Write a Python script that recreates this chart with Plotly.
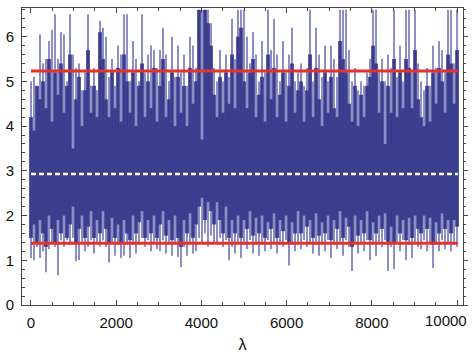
import plotly.graph_objects as go

# Per-column extremes (light trace = full swing, dark = dense core)
spike_hi = [
    5.0, 5.1, 4.6, 6.05, 5.4, 5.5, 5.9, 6.15, 6.5, 5.5,
    6.1, 6.05, 5.0, 6.5, 5.6, 5.3, 5.4, 4.8, 5.2, 6.5,
    4.9, 5.3, 4.8, 6.35, 6.2, 6.0, 5.1, 5.5, 4.9, 5.8,
    5.6, 6.5, 6.5, 5.0, 5.9, 5.5, 5.0, 6.5, 5.2, 5.6,
    5.8, 5.7, 5.3, 5.7, 6.2, 5.6, 5.0, 6.0, 5.1, 5.8,
    5.2, 5.6, 4.9, 6.0, 5.8, 5.3, 6.6, 6.6, 6.6, 6.6,
    6.3, 5.3, 5.0, 5.7, 5.0, 5.6, 5.1, 6.4, 5.5, 6.6,
    6.6, 6.6, 6.0, 5.4, 6.1, 5.6, 5.0, 5.9, 5.2, 6.6,
    5.7, 6.4, 5.6, 5.0, 5.9, 5.2, 5.6, 6.2, 5.0, 5.2,
    5.4, 4.9, 5.3, 6.6, 5.0, 6.2, 5.6, 5.1, 5.8, 5.0,
    5.8, 5.5, 5.1, 6.6, 6.6, 6.6, 5.7, 5.0, 5.3, 4.8,
    5.0, 4.9, 5.2, 5.5, 6.6, 6.6, 5.2, 5.5, 5.0, 5.6,
    5.3, 6.6, 5.1, 5.8, 5.0, 6.6, 6.6, 5.2, 6.6, 5.4,
    5.0, 4.8, 5.3, 4.9, 5.8, 5.3, 5.9, 5.7, 5.2, 6.6,
    6.6, 5.4, 6.6,
]
spike_lo = [
    1.05, 1.0, 1.3, 1.05, 1.2, 0.73, 1.25, 1.4, 1.3, 0.66,
    1.45, 1.3, 1.45, 1.35, 1.5, 0.98, 1.0, 1.4, 1.2, 1.3,
    1.45, 1.15, 1.35, 1.3, 1.45, 1.3, 0.95, 1.4, 1.1, 1.35,
    1.05, 1.1, 1.4, 1.05, 1.35, 1.15, 1.35, 1.5, 1.3, 1.45,
    1.2, 1.4, 1.25, 1.2, 1.45, 1.15, 1.35, 1.1, 1.4, 1.07,
    0.85, 1.3, 1.1, 1.4, 1.15, 1.2, 1.5, 1.4, 1.6, 1.3,
    1.55, 1.4, 1.35, 1.5, 1.3, 1.45, 1.0, 1.3, 1.15, 1.4,
    1.05, 1.35, 1.25, 1.45, 1.15, 1.4, 1.1, 1.35, 1.2, 1.45,
    1.25, 1.4, 1.15, 1.35, 1.3, 1.45, 0.88, 1.35, 1.2, 1.4,
    1.25, 1.45, 1.3, 1.4, 1.15, 1.35, 1.1, 1.4, 1.2, 1.45,
    1.05, 1.35, 1.25, 1.4, 1.1, 1.45, 1.3, 0.76, 1.4, 1.15,
    1.35, 1.2, 1.45, 1.0, 1.35, 1.1, 1.4, 1.3, 1.45, 0.76,
    1.3, 0.8, 1.4, 1.2, 1.45, 1.0, 1.35, 1.05, 1.4, 1.3,
    1.25, 1.45, 1.2, 1.4, 0.83, 1.35, 1.2, 1.45, 1.25, 1.4,
    1.2, 1.35, 1.3,
]
core_hi = [
    4.2, 3.9, 4.9, 4.6, 5.0, 4.4, 5.5, 4.1, 5.2, 4.7,
    5.4, 4.3, 4.9, 5.6, 3.5, 4.6, 5.1, 4.0, 4.8, 5.7,
    4.3, 4.9, 4.2, 6.1, 5.5, 4.6, 4.2, 5.2, 4.4, 5.3,
    4.1, 5.6, 5.0, 4.3, 5.2, 4.0, 4.9, 5.4, 4.2, 5.0,
    4.4, 5.3, 4.1, 4.9, 5.5, 4.2, 4.6, 5.2, 4.0, 5.1,
    4.3, 4.9, 4.0, 5.3, 4.5, 5.0, 6.6, 3.7, 6.6, 6.3,
    5.8, 4.7, 4.2, 5.1, 4.3, 5.2, 4.5, 5.6, 4.4, 6.0,
    6.2, 5.0, 4.4, 5.2, 5.5, 4.2, 4.7, 5.1, 4.1, 5.6,
    4.6, 5.3, 4.2, 4.7, 5.2, 4.1, 4.9, 5.4, 4.3, 4.8,
    5.0, 4.1, 4.8, 5.6, 4.2, 5.3, 4.6, 4.0, 5.2, 4.3,
    5.1, 4.4, 4.2, 5.9, 5.5, 5.2, 4.5, 4.1, 4.9, 4.0,
    4.7, 4.2, 4.9, 5.1, 5.8, 5.4, 4.3, 5.0, 3.6, 4.9,
    4.3, 5.5, 4.2, 5.2, 4.4, 5.5, 5.3, 4.4, 5.7, 4.6,
    4.2, 4.0, 4.9, 4.1, 5.2, 4.5, 5.3, 5.0, 4.3, 5.6,
    5.4, 4.5, 5.7,
]
core_lo = [
    1.5, 1.8, 1.4, 1.9, 1.6, 1.3, 2.0, 1.7, 1.4, 1.9,
    1.6, 2.0, 1.5, 1.8, 2.2, 1.4, 1.7, 2.0, 1.5, 1.75,
    2.1, 1.5, 1.9, 1.6, 2.1, 1.7, 1.4, 1.95, 1.5, 1.8,
    1.4, 1.9, 1.6, 1.45, 2.0, 1.6, 1.85, 2.1, 1.5, 1.9,
    1.6, 2.0, 1.5, 1.8, 2.1, 1.55, 1.9, 1.45, 2.0, 1.5,
    1.3, 1.9, 1.6, 2.05, 1.5, 1.8, 2.2, 2.4, 1.9, 2.3,
    2.1, 1.8, 2.3, 1.9, 1.6, 2.2, 1.5, 1.9, 1.6, 2.0,
    1.5, 1.9, 1.7, 2.1, 1.55, 1.95, 1.6, 2.0, 1.5, 1.85,
    1.7, 2.05, 1.5, 1.9, 1.65, 2.0, 1.4, 1.85, 1.6, 2.1,
    1.6, 2.0, 1.75, 1.9, 1.5, 2.05, 1.55, 1.85, 1.6, 2.0,
    1.45, 1.9, 1.7, 2.1, 1.5, 1.95, 1.75, 1.3, 2.0, 1.55,
    1.9, 1.6, 2.1, 1.45, 1.85, 1.6, 2.0, 1.7, 2.05, 1.35,
    1.75, 1.4, 2.0, 1.6, 1.9, 1.45, 1.95, 1.5, 2.0, 1.7,
    1.6, 2.0, 1.7, 1.95, 1.35, 1.85, 1.6, 2.05, 1.7, 1.9,
    1.6, 1.9, 1.75,
]
lam_max = 10000
upper_limit = 5.23
lower_limit = 1.38
mean_level = 2.93

x_tick_vals = [0, 2000, 4000, 6000, 8000, 10000]
x_tick_text = ["0", "2000", "4000", "6000", "8000", ""]
last_x_label = "10000"
y_tick_vals = [0, 1, 2, 3, 4, 5, 6]

n = len(spike_hi)
lam = [i * lam_max / (n - 1) for i in range(n)]


def segments(lo, hi):
    xs, ys = [], []
    for xv, a, b in zip(lam, lo, hi):
        xs += [xv, xv, None]
        ys += [a, b, None]
    return xs, ys


fig = go.Figure()
sx, sy = segments(spike_lo, spike_hi)
fig.add_trace(go.Scatter(x=sx, y=sy, mode="lines", connectgaps=False,
                         line=dict(color="rgb(140,142,198)", width=2.0),
                         hoverinfo="skip", showlegend=False))
cx, cy = segments(core_lo, core_hi)
fig.add_trace(go.Scatter(x=cx, y=cy, mode="lines", connectgaps=False,
                         line=dict(color="rgb(58,61,142)", width=3.7),
                         hoverinfo="skip", showlegend=False))
for lvl in (upper_limit, lower_limit):
    fig.add_trace(go.Scatter(x=[0, lam_max + 20], y=[lvl, lvl], mode="lines",
                             line=dict(color="#e8302c", width=3),
                             hoverinfo="skip", showlegend=False))
fig.add_trace(go.Scatter(x=[0, lam_max + 20], y=[mean_level, mean_level], mode="lines",
                         line=dict(color="white", width=2.5, dash="5px,3px"),
                         hoverinfo="skip", showlegend=False))
# invisible trace to activate right axis
fig.add_trace(go.Scatter(x=[0], y=[0], yaxis="y2", mode="markers",
                         marker=dict(opacity=0), hoverinfo="skip", showlegend=False))

axis_col = "#444444"
font_family = "Liberation Sans, Arial, sans-serif"
tick_font = dict(family=font_family, size=15, color="#111111")
fig.add_annotation(x=lam_max, xref="x", y=0, yref="paper", text=last_x_label,
                   showarrow=False, xanchor="center", yanchor="top",
                   xshift=-11, yshift=-5, font=tick_font)
fig.update_layout(
    width=474, height=353,
    margin=dict(l=22, r=11, t=8, b=48, autoexpand=False),
    paper_bgcolor="white", plot_bgcolor="white",
    xaxis=dict(range=[-211, 10140], tickvals=x_tick_vals, ticktext=x_tick_text,
               automargin=False,
               ticks="inside", ticklen=5, tickcolor=axis_col, tickwidth=1,
               minor=dict(dtick=500, tick0=0, ticks="inside", ticklen=3, tickcolor=axis_col),
               showline=True, linecolor=axis_col, linewidth=1, mirror="ticks",
               showgrid=False, zeroline=False, tickfont=tick_font,
               ticklabelstandoff=4,
               title=dict(text="λ", font=dict(family=font_family, size=16, color="#111111"),
                          standoff=10)),
    yaxis=dict(range=[0, 6.64], tickvals=y_tick_vals, automargin=False,
               ticks="inside", ticklen=5, tickcolor=axis_col, tickwidth=1,
               minor=dict(dtick=0.2, tick0=0, ticks="inside", ticklen=3, tickcolor=axis_col),
               showline=True, linecolor=axis_col, linewidth=1, mirror=True,
               showgrid=False, zeroline=False, tickfont=tick_font,
               ticklabelstandoff=4),
    yaxis2=dict(range=[0, 6.64], overlaying="y", side="right", automargin=False,
                tickvals=y_tick_vals, showticklabels=False,
                ticks="outside", ticklen=4, tickcolor=axis_col,
                minor=dict(dtick=0.2, tick0=0, ticks="outside", ticklen=2, tickcolor=axis_col),
                showline=False, showgrid=False, zeroline=False),
)
fig.write_html("out.html")
